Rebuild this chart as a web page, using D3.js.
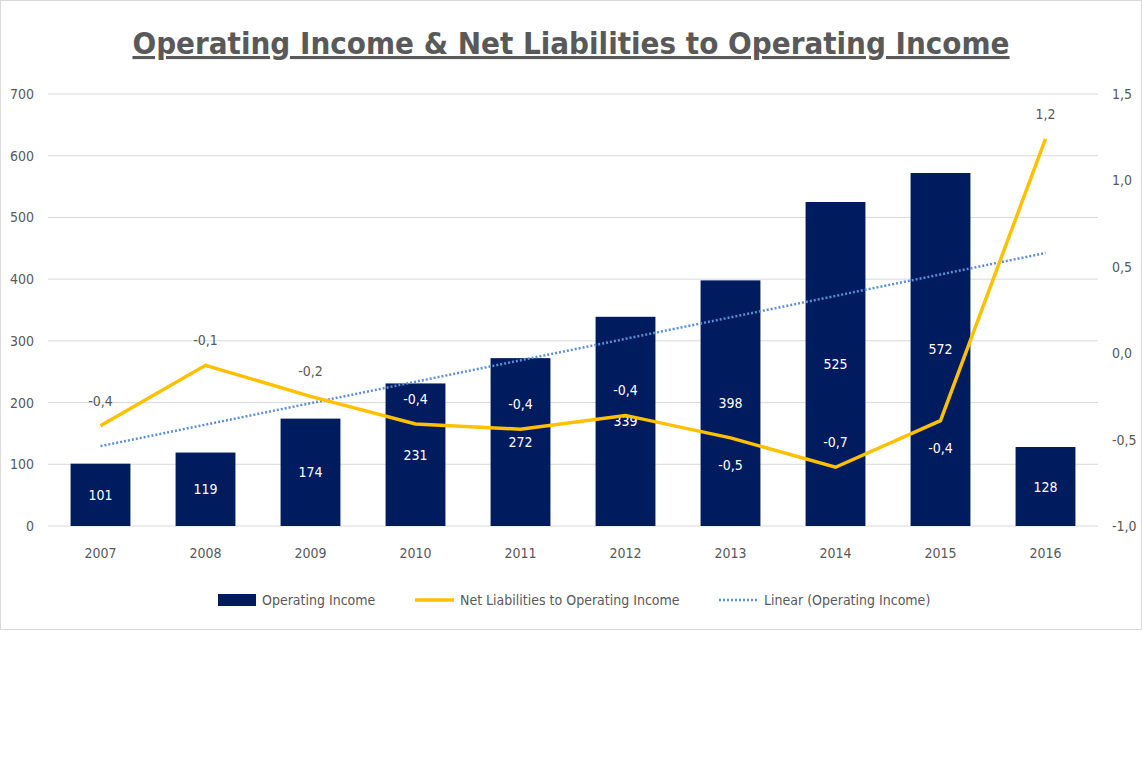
<!DOCTYPE html>
<html><head><meta charset="utf-8">
<script src="https://cdn.jsdelivr.net/npm/d3@7"></script>
<style>
body{margin:0;background:#fff;}
text{font-family:"Liberation Sans Narrow","DejaVu Sans Condensed","Roboto Condensed",sans-serif;fill:#595959;}
</style></head><body>
<svg id="c" width="1143" height="764"></svg>
<script>
// data
var years = ["2007","2008","2009","2010","2011","2012","2013","2014","2015","2016"];
var income = [101,119,174,231,272,339,398,525,572,128];
var ratio = [-0.42,-0.07,-0.25,-0.41,-0.44,-0.36,-0.49,-0.66,-0.39,1.24];
var ratioLabels = ["-0,4","-0,1","-0,2","-0,4","-0,4","-0,4","-0,5","-0,7","-0,4","1,2"];
var ratioBelow = [false,false,false,false,false,false,true,false,true,false];
var leftTicks = [0,100,200,300,400,500,600,700];
var rightTicks = [-1.0,-0.5,0.0,0.5,1.0,1.5];

var svg = d3.select("#c");
svg.append("rect").attr("x",0.5).attr("y",0.5).attr("width",1141).attr("height",629)
   .attr("fill","#fff").attr("stroke","#d9d9d9");

var x = d3.scaleBand().domain(years).range([48,1098]).paddingInner(0.43).paddingOuter(0.215);
var y = d3.scaleLinear().domain([0,700]).range([526,94]);
var y2 = d3.scaleLinear().domain([-1,1.5]).range([526,94]);
var cx = function(i){ return x(years[i]) + x.bandwidth()/2; };

// gridlines
svg.append("g").selectAll("line").data(leftTicks).join("line")
  .attr("x1",48).attr("x2",1098).attr("y1",d=>y(d)).attr("y2",d=>y(d))
  .attr("stroke","#d9d9d9").attr("stroke-width",1);

// axes labels
svg.append("g").selectAll("text").data(leftTicks).join("text")
  .attr("x",34).attr("y",d=>y(d)+5).attr("text-anchor","end").attr("font-size",14).text(d=>d);
svg.append("g").selectAll("text").data(rightTicks).join("text")
  .attr("x",1112).attr("y",d=>y2(d)+5).attr("font-size",14).text(d=>d.toFixed(1).replace(".",","));
svg.append("g").selectAll("text").data(years).join("text")
  .attr("x",(d,i)=>cx(i)).attr("y",558).attr("text-anchor","middle").attr("font-size",14).text(d=>d);

// bars
svg.append("g").selectAll("rect").data(income).join("rect")
  .attr("x",(d,i)=>x(years[i])).attr("width",x.bandwidth())
  .attr("y",d=>y(d)).attr("height",d=>y(0)-y(d)).attr("fill","#001b5e");
svg.append("g").selectAll("text").data(income).join("text")
  .attr("x",(d,i)=>cx(i)).attr("y",d=>(y(d)+y(0))/2+5).attr("text-anchor","middle")
  .attr("font-size",14).style("fill","#fff").text(d=>d);

// linear trend of operating income
var n = income.length, mx = d3.mean(d3.range(n)), my = d3.mean(income);
var slope = d3.sum(income,(v,i)=>(i-mx)*(v-my)) / d3.sum(d3.range(n),i=>(i-mx)*(i-mx));
var icpt = my - slope*mx;
svg.append("line").attr("x1",cx(0)).attr("x2",cx(n-1))
  .attr("y1",y(icpt)).attr("y2",y(icpt+slope*(n-1)))
  .attr("stroke","#5b8fd6").attr("stroke-width",2.5).attr("stroke-dasharray","2,2");

// ratio line
svg.append("path").datum(ratio)
  .attr("d",d3.line().x((d,i)=>cx(i)).y(d=>y2(d)))
  .attr("fill","none").attr("stroke","#ffc000").attr("stroke-width",3.5);
svg.append("g").selectAll("text").data(ratio).join("text")
  .attr("x",(d,i)=>cx(i)).attr("y",(d,i)=>ratioBelow[i]? y2(d)+32 : y2(d)-20)
  .attr("text-anchor","middle").attr("font-size",14)
  .style("fill",(d,i)=>(i>=3&&i<=8)?"#fff":"#595959")
  .text((d,i)=>ratioLabels[i]);

// title
svg.append("text").attr("x",571).attr("y",54).attr("text-anchor","middle")
  .attr("font-size",31).attr("font-weight","bold").attr("text-decoration","underline")
  .text("Operating Income & Net Liabilities to Operating Income");

// legend
var lg = svg.append("g").attr("font-size",14);
lg.append("rect").attr("x",218).attr("y",594).attr("width",38).attr("height",12).attr("fill","#001b5e");
lg.append("text").attr("x",262).attr("y",605).text("Operating Income");
lg.append("line").attr("x1",415).attr("x2",454).attr("y1",600).attr("y2",600).attr("stroke","#ffc000").attr("stroke-width",3.5);
lg.append("text").attr("x",460).attr("y",605).text("Net Liabilities to Operating Income");
lg.append("line").attr("x1",719).attr("x2",758).attr("y1",600).attr("y2",600).attr("stroke","#5b8fd6").attr("stroke-width",2.5).attr("stroke-dasharray","2,2");
lg.append("text").attr("x",764).attr("y",605).text("Linear (Operating Income)");
</script></body></html>
